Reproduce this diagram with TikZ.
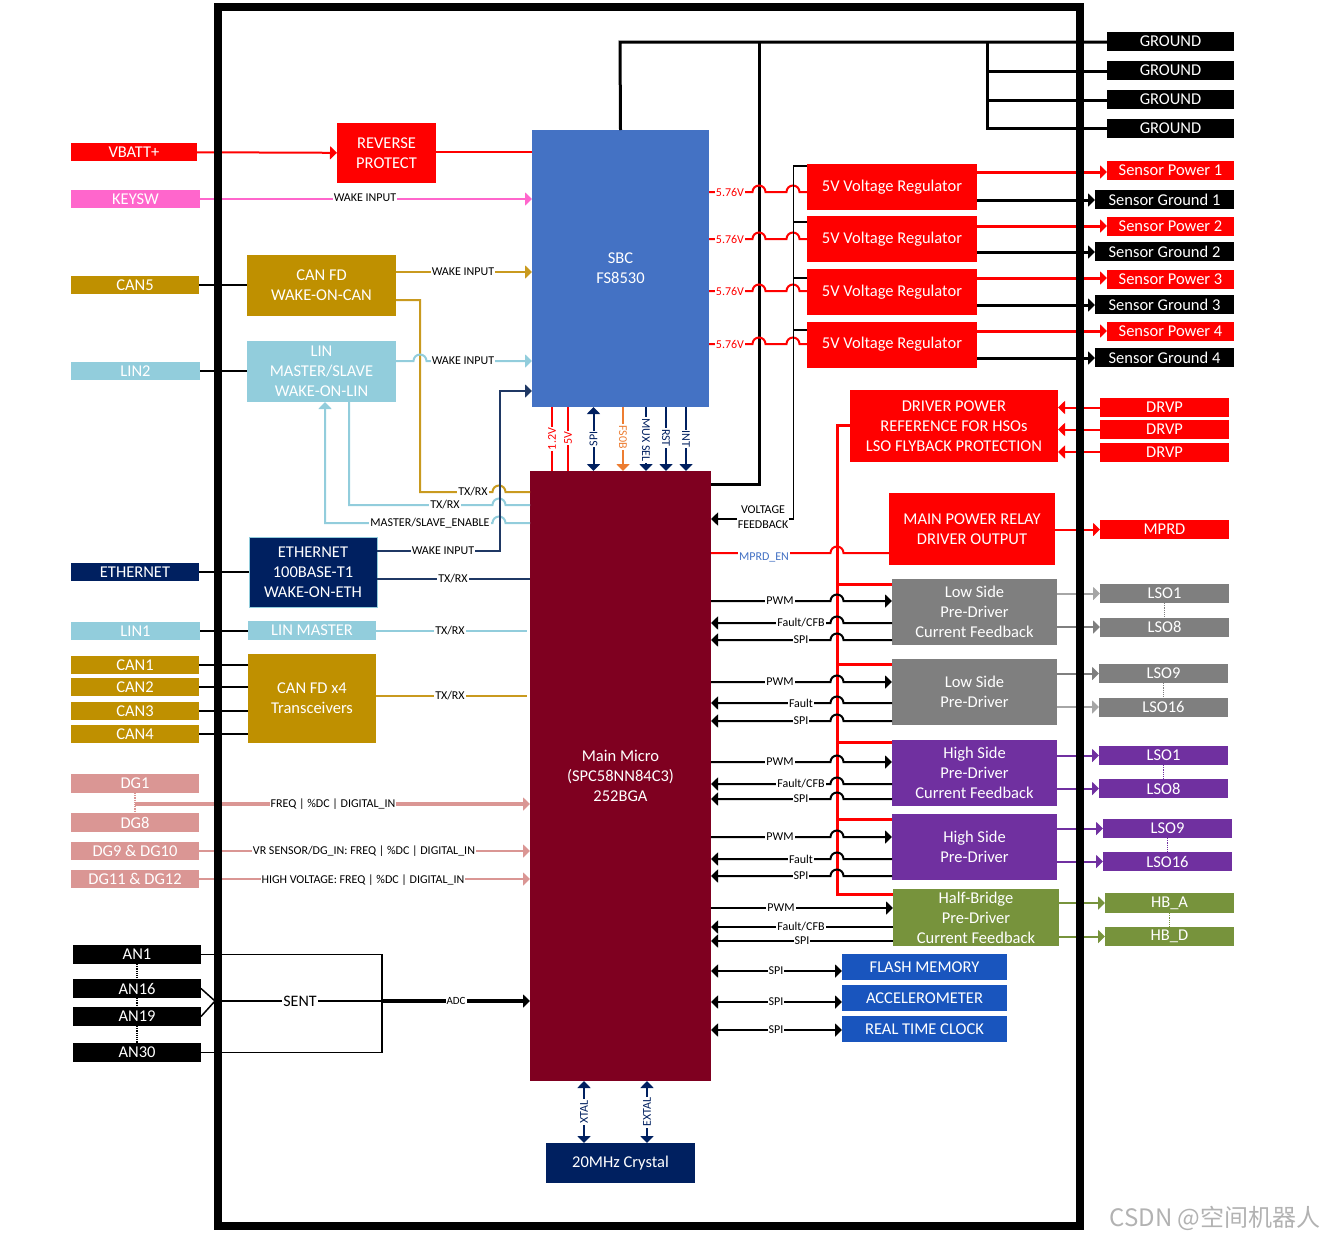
\documentclass[tikz,border=0pt]{standalone}
\usepackage{fontspec}
\setmainfont{Carlito}
\newfontfamily\cjkwm{Noto Sans CJK SC}
\usetikzlibrary{arrows.meta}
\definecolor{redbox}{HTML}{FF0000}
\definecolor{pinkbox}{HTML}{FF66CC}
\definecolor{goldbox}{HTML}{BF9000}
\definecolor{goldline}{HTML}{C99A1F}
\definecolor{lightbox}{HTML}{92CDDC}
\definecolor{navybox}{HTML}{002060}
\definecolor{navyline}{HTML}{1F3864}
\definecolor{dgbox}{HTML}{DA9694}
\definecolor{sbcblue}{HTML}{4472C4}
\definecolor{microred}{HTML}{7F0020}
\definecolor{lowgray}{HTML}{7F7F7F}
\definecolor{palegray}{HTML}{A6A6A6}
\definecolor{highpurple}{HTML}{7030A0}
\definecolor{halfgreen}{HTML}{77933C}
\definecolor{periblue}{HTML}{1955BE}
\definecolor{fsorange}{HTML}{ED7D31}
\def\hop(#1,#2){-- (#1-6.5,#2) arc (180:360:6.5)}
\tikzset{
	box/.style 2 args={inner sep=0, outer sep=0, minimum width=#1, minimum height=#2, text=white, align=center, font=\fontsize{16.5}{20}\selectfont},
	lab/.style={fill=white, inner sep=1pt, text=black, font=\fontsize{12}{12}\selectfont},
	tipend/.style={-{Triangle[length=7pt,width=13pt]}},
	tipstart/.style={{Triangle[length=7pt,width=13pt]}-},
	tipboth/.style={{Triangle[length=7pt,width=13pt]}-{Triangle[length=7pt,width=13pt]}},
	sig/.style={line width=2pt},
	fat/.style={line width=3pt},
	thinline/.style={line width=1.5pt},
	dotline/.style={densely dotted, line width=1.2pt}
}
\begin{document}
\begin{tikzpicture}[x=1pt,y=-1pt]
	%%%%% START %%%%%
	\useasboundingbox (0,0) rectangle (1331,1240);
	
	\node[box={126}{18}, fill=redbox] (vbatt) at (134,152) {VBATT+};
	\node[box={129}{18}, fill=pinkbox] (keysw) at (135.5,199) {KEYSW};
	\node[box={128}{18}, fill=goldbox] (cansv) at (135,285) {CAN5};
	\node[box={129}{18}, fill=lightbox] (lintw) at (135.5,371) {LIN2};
	\node[box={128}{18}, fill=navybox] (ethin) at (135,572) {ETHERNET};
	\node[box={129}{18}, fill=lightbox] (linon) at (135.5,631) {LIN1};
	\node[box={128}{18}, fill=goldbox] (canon) at (135,665) {CAN1};
	\node[box={128}{18}, fill=goldbox] (cantw) at (135,687) {CAN2};
	\node[box={128}{18}, fill=goldbox] (canth) at (135,711) {CAN3};
	\node[box={128}{18}, fill=goldbox] (canfo) at (135,734) {CAN4};
	\node[box={128}{19}, fill=dgbox] (dgon) at (135,783.5) {DG1};
	\node[box={128}{19}, fill=dgbox] (dgei) at (135,822.5) {DG8};
	\node[box={128}{18}, fill=dgbox] (dgni) at (135,851) {DG9 \& DG10};
	\node[box={128}{18}, fill=dgbox] (dgel) at (135,879) {DG11 \& DG12};
	\node[box={128}{19}, fill=black] (anon) at (137,954.5) {AN1};
	\node[box={128}{19}, fill=black] (ansx) at (137,988.5) {AN16};
	\node[box={128}{19}, fill=black] (annt) at (137,1016.5) {AN19};
	\node[box={128}{19}, fill=black] (anth) at (137,1052.5) {AN30};
	
	\node[box={99}{60}, fill=redbox] (reverse) at (386.5,153) {REVERSE\\PROTECT};
	\node[box={149}{61}, fill=goldbox] (canwake) at (321.5,285.5) {CAN FD\\WAKE-ON-CAN};
	\node[box={149}{61}, fill=lightbox] (linwake) at (321.5,371.5) {LIN\\MASTER/SLAVE\\WAKE-ON-LIN};
	\node[box={128}{70}, fill=navybox, draw=lightbox, line width=0.5pt] (ethwake) at (313,572) {ETHERNET\\100BASE-T1\\WAKE-ON-ETH};
	\node[box={128}{19}, fill=lightbox] (linmaster) at (312,630.5) {LIN MASTER};
	\node[box={128}{89}, fill=goldbox] (canfour) at (312,698.5) {CAN FD x4\\Transceivers};
	
	\node[box={177}{277}, fill=sbcblue] (sbc) at (620.5,268.5) {};
	\node[box={60}{40}] (sbctext) at (620.5,268) {SBC\\FS8530};
	\node[box={181}{610}, fill=microred] (micro) at (620.5,776) {Main Micro\\(SPC58NN84C3)\\252BGA};
	\node[box={149}{40}, fill=navybox] (crystal) at (620.5,1163) {20MHz Crystal};
	
	\node[box={170}{46}, fill=redbox] (regon) at (892,187) {5V Voltage Regulator};
	\node[box={170}{46}, fill=redbox] (regtw) at (892,239) {5V Voltage Regulator};
	\node[box={170}{46}, fill=redbox] (regth) at (892,292) {5V Voltage Regulator};
	\node[box={170}{46}, fill=redbox] (regfo) at (892,344.5) {5V Voltage Regulator};
	\node[box={208}{72}, fill=redbox] (drvref) at (954,426) {DRIVER POWER\\REFERENCE FOR HSOs\\LSO FLYBACK PROTECTION};
	\node[box={166}{72}, fill=redbox] (relay) at (972,529) {MAIN POWER RELAY\\DRIVER OUTPUT};
	\node[box={165}{66}, fill=lowgray] (lowa) at (974.5,612) {Low Side\\Pre-Driver\\Current Feedback};
	\node[box={165}{66}, fill=lowgray] (lowb) at (974.5,692) {Low Side\\Pre-Driver};
	\node[box={165}{66}, fill=highpurple] (higha) at (974.5,773) {High Side\\Pre-Driver\\Current Feedback};
	\node[box={165}{66}, fill=highpurple] (highb) at (974.5,847) {High Side\\Pre-Driver};
	\node[box={166}{57}, fill=halfgreen] (halfb) at (976,917.5) {Half-Bridge\\Pre-Driver\\Current Feedback};
	\node[box={165}{26}, fill=periblue] (flash) at (924.5,967) {FLASH MEMORY};
	\node[box={165}{26}, fill=periblue] (accel) at (924.5,998) {ACCELEROMETER};
	\node[box={165}{26}, fill=periblue] (rtclk) at (924.5,1029) {REAL TIME CLOCK};
	
	\node[box={127}{19}, fill=black] (gnda) at (1170.5,41.5) {GROUND};
	\node[box={127}{19}, fill=black] (gndb) at (1170.5,70.5) {GROUND};
	\node[box={127}{19}, fill=black] (gndc) at (1170.5,99.5) {GROUND};
	\node[box={127}{19}, fill=black] (gndd) at (1170.5,128.5) {GROUND};
	\node[box={127}{19}, fill=redbox] (pwra) at (1170.5,170.5) {Sensor Power 1};
	\node[box={139}{19}, fill=black] (sgna) at (1164.5,199.5) {Sensor Ground 1};
	\node[box={127}{19}, fill=redbox] (pwrb) at (1170.5,226) {Sensor Power 2};
	\node[box={139}{19}, fill=black] (sgnb) at (1164.5,251.5) {Sensor Ground 2};
	\node[box={127}{19}, fill=redbox] (pwrc) at (1170.5,279) {Sensor Power 3};
	\node[box={139}{19}, fill=black] (sgnc) at (1164.5,304.5) {Sensor Ground 3};
	\node[box={127}{19}, fill=redbox] (pwrd) at (1170.5,331) {Sensor Power 4};
	\node[box={139}{19}, fill=black] (sgnd) at (1164.5,357.5) {Sensor Ground 4};
	\node[box={129}{19}, fill=redbox] (drva) at (1164.5,407.5) {DRVP};
	\node[box={129}{19}, fill=redbox] (drvb) at (1164.5,429.5) {DRVP};
	\node[box={129}{19}, fill=redbox] (drvc) at (1164.5,452) {DRVP};
	\node[box={129}{19}, fill=redbox] (mprd) at (1164.5,529.5) {MPRD};
	\node[box={129}{19}, fill=lowgray] (lsoa) at (1164.5,593.5) {LSO1};
	\node[box={129}{19}, fill=lowgray] (lsob) at (1164.5,627) {LSO8};
	\node[box={129}{19}, fill=lowgray] (lsoc) at (1163.5,673.5) {LSO9};
	\node[box={129}{19}, fill=lowgray] (lsod) at (1163.5,707) {LSO16};
	\node[box={129}{19}, fill=highpurple] (hsoa) at (1163.5,755.5) {LSO1};
	\node[box={129}{19}, fill=highpurple] (hsob) at (1163.5,788.5) {LSO8};
	\node[box={129}{19}, fill=highpurple] (hsoc) at (1167.5,828.5) {LSO9};
	\node[box={129}{19}, fill=highpurple] (hsod) at (1167.5,861.5) {LSO16};
	\node[box={129}{20}, fill=halfgreen] (hba) at (1169.5,903) {HB\_A};
	\node[box={129}{19}, fill=halfgreen] (hbd) at (1169.5,936.5) {HB\_D};
	
	\draw[fat] (sbc.north) -- (620,42) -- (gnda.west |- 0,42);
	\draw[fat] (759,42) -- (759,484) -- (micro.east |- 0,484);
	\draw[fat] (987,42) -- (987,128) -- (gndd.west |- 0,128);
	\draw[fat] (987,71) -- (gndb.west |- 0,71);
	\draw[fat] (987,100) -- (gndc.west |- 0,100);
	
	\draw[sig, color=redbox, tipend] (vbatt) -- (reverse);
	\draw[sig, color=redbox] (reverse.east |- 0,152) -- (sbc.west |- 0,152);
	\draw[sig, color=pinkbox, tipend] (keysw.east) -- (sbc.west |- 0,199);
	\draw[sig] (cansv) -- (canwake.west |- cansv);
	\draw[sig] (lintw) -- (linwake.west |- lintw);
	\draw[sig] (ethin) -- (ethwake.west |- ethin);
	\draw[sig] (linon) -- (linmaster.west |- linon);
	\draw[sig] (canon) -- (canfour.west |- canon);
	\draw[sig] (cantw) -- (canfour.west |- cantw);
	\draw[sig] (canth) -- (canfour.west |- canth);
	\draw[sig] (canfo) -- (canfour.west |- canfo);
	
	\draw[sig, color=goldline, tipend] (canwake.east |- 0,272) -- (sbc.west |- 0,272);
	\draw[sig, color=goldline] (canwake.east |- 0,300) -- (420,300) -- (420,492) \hop(499,492) -- (micro.west |- 0,492);
	\draw[sig, color=lightbox, tipend] (linwake.east |- 0,361) \hop(420,361) -- (sbc.west |- 0,361);
	\draw[sig, color=lightbox] (linwake.south -| 349,0) -- (349,505) \hop(499,505) -- (micro.west |- 0,505);
	\draw[sig, color=lightbox, tipstart] (linwake.south -| 325,0) -- (325,523) \hop(499,523) -- (micro.west |- 0,523);
	\draw[sig, color=navyline, tipend] (ethwake.east |- 0,551) -- (500,551) -- (500,391) -- (sbc.west |- 0,391);
	\draw[sig, color=navyline] (ethwake.east |- 0,579) -- (micro.west |- 0,579);
	\draw[sig, color=lightbox] (linmaster.east |- 0,631) -- (527,631);
	\draw[sig, color=goldline] (canfour.east |- 0,696) -- (527,696);
	
	\draw[dotline, color=dgbox] (dgon) -- (dgei);
	\draw[line width=4pt, color=dgbox, tipend] (135,804) -- (micro.west |- 0,804);
	\draw[sig, color=dgbox, tipend] (dgni) -- (micro.west |- dgni);
	\draw[sig, color=dgbox, tipend] (dgel) -- (micro.west |- dgel);
	
	\draw[dotline] (anon) -- (ansx);
	\draw[dotline] (ansx) -- (annt);
	\draw[dotline] (annt) -- (anth);
	\draw[thinline] (anon) -- (382,954.5) -- (382,1052.5) -- (anth);
	\draw[thinline] (ansx.east) -- (215,1001) -- (annt.east);
	\draw[thinline] (215,1001) -- (382,1001);
	\draw[line width=4pt, tipend] (382,1001) -- (micro.west |- 0,1001);
	
	\draw[sig, color=redbox] (sbc.south -| 552,0) -- (micro.north -| 552,0);
	\draw[sig, color=redbox] (sbc.south -| 568,0) -- (micro.north -| 568,0);
	\draw[sig, color=navybox, tipboth] (sbc.south -| 593.5,0) -- (micro.north -| 593.5,0);
	\draw[sig, color=fsorange, tipend] (sbc.south -| 623,0) -- (micro.north -| 623,0);
	\draw[sig, color=navybox, tipend] (sbc.south -| 646,0) -- (micro.north -| 646,0);
	\draw[sig, color=navybox, tipend] (sbc.south -| 666,0) -- (micro.north -| 666,0);
	\draw[sig, color=navybox, tipend] (sbc.south -| 686,0) -- (micro.north -| 686,0);
	\draw[sig, color=navybox, tipboth] (micro.south -| 584,0) -- (crystal.north -| 584,0);
	\draw[sig, color=navybox, tipboth] (micro.south -| 647,0) -- (crystal.north -| 647,0);
	
	\draw[sig, color=redbox] (sbc.east |- 0,192) \hop(759,192) \hop(793,192) -- (regon.west |- 0,192);
	\draw[sig, color=redbox] (sbc.east |- 0,239) \hop(759,239) \hop(793,239) -- (regtw.west |- 0,239);
	\draw[sig, color=redbox] (sbc.east |- 0,291) \hop(759,291) \hop(793,291) -- (regth.west |- 0,291);
	\draw[sig, color=redbox] (sbc.east |- 0,344) \hop(759,344) \hop(793,344) -- (regfo.west |- 0,344);
	\draw[thinline, tipend] (regon.west |- 0,166) -- (793.5,166) -- (793.5,519) -- (micro.east |- 0,519);
	\draw[thinline] (793.5,222) -- (regtw.west |- 0,222);
	\draw[thinline] (793.5,278) -- (regth.west |- 0,278);
	\draw[thinline] (793.5,330) -- (regfo.west |- 0,330);
	
	\draw[fat, color=redbox, tipend] (regon.east |- 0,172) -- (pwra.west |- 0,172);
	\draw[fat, tipend] (regon.east |- 0,200) -- (sgna.west |- 0,200);
	\draw[fat, color=redbox, tipend] (regtw.east |- 0,226) -- (pwrb.west |- 0,226);
	\draw[fat, tipend] (regtw.east |- 0,252) -- (sgnb.west |- 0,252);
	\draw[fat, color=redbox, tipend] (regth.east |- 0,278) -- (pwrc.west |- 0,278);
	\draw[fat, tipend] (regth.east |- 0,305) -- (sgnc.west |- 0,305);
	\draw[fat, color=redbox, tipend] (regfo.east |- 0,331) -- (pwrd.west |- 0,331);
	\draw[fat, tipend] (regfo.east |- 0,358) -- (sgnd.west |- 0,358);
	
	\draw[sig, color=redbox, tipend] (drva) -- (drvref.east |- drva);
	\draw[sig, color=redbox, tipend] (drvb) -- (drvref.east |- drvb);
	\draw[sig, color=redbox, tipend] (drvc) -- (drvref.east |- drvc);
	\draw[sig, color=redbox, tipend] (relay.east |- mprd) -- (mprd);
	\draw[sig, color=redbox] (micro.east |- 0,553) \hop(837,553) -- (relay.west |- 0,553);
	\draw[fat, color=redbox] (drvref.west |- 0,425) -- (837,425) -- (837,894) -- (halfb.west |- 0,894);
	\draw[fat, color=redbox] (837,584) -- (lowa.west |- 0,584);
	\draw[fat, color=redbox] (837,664) -- (lowb.west |- 0,664);
	\draw[fat, color=redbox] (837,742) -- (higha.west |- 0,742);
	\draw[fat, color=redbox] (837,819) -- (highb.west |- 0,819);
	
	\draw[sig, tipend] (micro.east |- 0,601) \hop(837,601) -- (lowa.west |- 0,601);
	\draw[sig, tipstart] (micro.east |- 0,623) \hop(837,623) -- (lowa.west |- 0,623);
	\draw[sig, tipstart] (micro.east |- 0,640) \hop(837,640) -- (lowa.west |- 0,640);
	\draw[sig, tipend] (micro.east |- 0,682) \hop(837,682) -- (lowb.west |- 0,682);
	\draw[sig, tipstart] (micro.east |- 0,703) \hop(837,703) -- (lowb.west |- 0,703);
	\draw[sig, tipstart] (micro.east |- 0,721) \hop(837,721) -- (lowb.west |- 0,721);
	\draw[sig, tipend] (micro.east |- 0,762) \hop(837,762) -- (higha.west |- 0,762);
	\draw[sig, tipstart] (micro.east |- 0,784) \hop(837,784) -- (higha.west |- 0,784);
	\draw[sig, tipstart] (micro.east |- 0,799) \hop(837,799) -- (higha.west |- 0,799);
	\draw[sig, tipend] (micro.east |- 0,837) \hop(837,837) -- (highb.west |- 0,837);
	\draw[sig, tipstart] (micro.east |- 0,859) \hop(837,859) -- (highb.west |- 0,859);
	\draw[sig, tipstart] (micro.east |- 0,876) \hop(837,876) -- (highb.west |- 0,876);
	\draw[sig, tipend] (micro.east |- 0,908) -- (halfb.west |- 0,908);
	\draw[sig, tipstart] (micro.east |- 0,927) -- (halfb.west |- 0,927);
	\draw[sig, tipstart] (micro.east |- 0,941) -- (halfb.west |- 0,941);
	\draw[sig, tipboth] (micro.east |- 0,971) -- (flash.west |- 0,971);
	\draw[sig, tipboth] (micro.east |- 0,1002) -- (accel.west |- 0,1002);
	\draw[sig, tipboth] (micro.east |- 0,1030) -- (rtclk.west |- 0,1030);
	
	\draw[sig, color=palegray, tipend] (lowa.east |- lsoa) -- (lsoa);
	\draw[sig, color=lowgray, tipend] (lowa.east |- lsob) -- (lsob);
	\draw[sig, color=lowgray, tipend] (lowb.east |- lsoc) -- (lsoc);
	\draw[sig, color=palegray, tipend] (lowb.east |- lsod) -- (lsod);
	\draw[sig, color=highpurple, tipend] (higha.east |- hsoa) -- (hsoa);
	\draw[sig, color=highpurple, tipend] (higha.east |- hsob) -- (hsob);
	\draw[sig, color=highpurple, tipend] (highb.east |- hsoc) -- (hsoc);
	\draw[sig, color=highpurple, tipend] (highb.east |- hsod) -- (hsod);
	\draw[sig, color=halfgreen, tipend] (halfb.east |- hba) -- (hba);
	\draw[sig, color=halfgreen, tipend] (halfb.east |- hbd) -- (hbd);
	\draw[dotline, color=lowgray] (lsoa) -- (lsob);
	\draw[dotline, color=lowgray] (lsoc) -- (lsod);
	\draw[dotline, color=highpurple] (hsoa) -- (hsob);
	\draw[dotline, color=highpurple] (hsoc) -- (hsod);
	\draw[dotline, color=halfgreen] (hba) -- (hbd);
	
	\draw[line width=8pt] (218,7) rectangle (1080,1226);
	
	\node[lab] (lwakekey) at (365,198) {WAKE INPUT};
	\node[lab] (lwakecan) at (463,272) {WAKE INPUT};
	\node[lab] (lwakelin) at (463,361) {WAKE INPUT};
	\node[lab] (lcantx) at (473,492) {TX/RX};
	\node[lab] (llintx) at (445,505) {TX/RX};
	\node[lab] (lenable) at (430,523) {MASTER/SLAVE\_ENABLE};
	\node[lab] (lwakeeth) at (443,551) {WAKE INPUT};
	\node[lab] (lethtx) at (453,579) {TX/RX};
	\node[lab] (lmastx) at (450,631) {TX/RX};
	\node[lab] (lfourtx) at (450,696) {TX/RX};
	\node[lab] (ldga) at (333,804) {FREQ | \%DC | DIGITAL\_IN};
	\node[lab] (ldgb) at (364,851) {VR SENSOR/DG\_IN: FREQ | \%DC | DIGITAL\_IN};
	\node[lab] (ldgc) at (363,880) {HIGH VOLTAGE: FREQ | \%DC | DIGITAL\_IN};
	\node[lab, font=\fontsize{16}{16}\selectfont] (lsent) at (300,1001) {SENT};
	\node[lab, font=\fontsize{11}{11}\selectfont] (ladc) at (456,1001) {ADC};
	\node[lab, rotate=90, text=redbox] (lonetwo) at (552,439) {1.2V};
	\node[lab, rotate=90, text=redbox] (lfivev) at (568,438) {5V};
	\node[lab, rotate=90, text=navybox] (lspi) at (593.5,439) {SPI};
	\node[lab, rotate=-90, text=fsorange] (lfsob) at (623,437) {FS0B};
	\node[lab, rotate=-90, text=navybox] (lmux) at (646,440) {MUX SEL};
	\node[lab, rotate=-90, text=navybox] (lrst) at (666,438) {RST};
	\node[lab, rotate=-90, text=navybox] (lint) at (686,439) {INT};
	\node[lab, rotate=90, text=navybox] (lxtal) at (584,1112) {XTAL};
	\node[lab, rotate=90, text=navybox] (lextal) at (647,1112) {EXTAL};
	\node[lab, text=redbox] (lva) at (730,192) {5.76V};
	\node[lab, text=redbox] (lvb) at (730,239) {5.76V};
	\node[lab, text=redbox] (lvc) at (730,291) {5.76V};
	\node[lab, text=redbox] (lvd) at (730,344) {5.76V};
	\node[lab, align=center, font=\fontsize{12}{15}\selectfont] (lfeed) at (763,517) {VOLTAGE\\FEEDBACK};
	\node[lab, text=sbcblue] (lmprd) at (764,557) {MPRD\_EN};
	\node[lab] (lpwma) at (780,601) {PWM};
	\node[lab] (lfca) at (801,623) {Fault/CFB};
	\node[lab] (lspia) at (801,640) {SPI};
	\node[lab] (lpwmb) at (780,682) {PWM};
	\node[lab] (lfcb) at (801,703) {Fault};
	\node[lab] (lspib) at (801,721) {SPI};
	\node[lab] (lpwmc) at (780,762) {PWM};
	\node[lab] (lfcc) at (801,784) {Fault/CFB};
	\node[lab] (lspic) at (801,799) {SPI};
	\node[lab] (lpwmd) at (780,837) {PWM};
	\node[lab] (lfcd) at (801,859) {Fault};
	\node[lab] (lspid) at (801,876) {SPI};
	\node[lab] (lpwme) at (781,908) {PWM};
	\node[lab] (lfce) at (801,927) {Fault/CFB};
	\node[lab] (lspie) at (802,941) {SPI};
	\node[lab] (lspif) at (776,971) {SPI};
	\node[lab] (lspig) at (776,1002) {SPI};
	\node[lab] (lspih) at (776,1030) {SPI};
	
	\node[text=black!30, font=\cjkwm\fontsize{24}{24}\selectfont] (wmark) at (1215,1218) {CSDN @空间机器人};
	%%%%% END %%%%%
\end{tikzpicture}
\end{document}
